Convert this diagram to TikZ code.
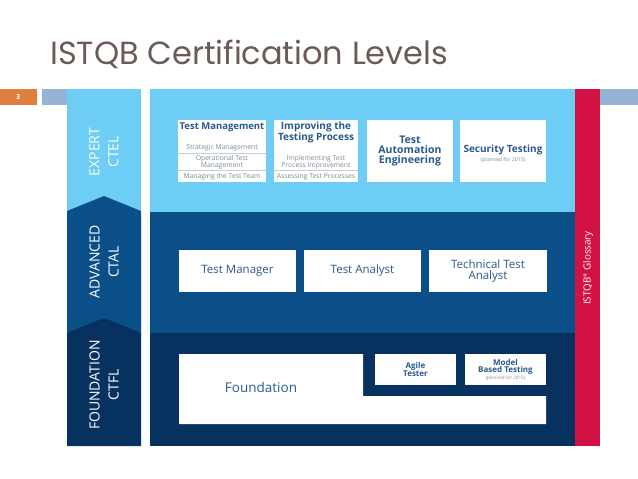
\documentclass[tikz,border=0pt]{standalone}
\usepackage{fontspec}
\setmainfont{Open Sans}
\newfontfamily\titlefont{Poppins}
\definecolor{lblue}{HTML}{6DCDF4}
\definecolor{ablue}{HTML}{0B4F88}
\definecolor{navy}{HTML}{07325F}
\definecolor{glossred}{HTML}{D21242}
\definecolor{bargray}{HTML}{95B3D7}
\definecolor{pgorange}{HTML}{DF7F3F}
\definecolor{titlecol}{HTML}{6B5A55}
\definecolor{boxtext}{HTML}{28598F}
\definecolor{subtext}{HTML}{7E8A96}
\definecolor{rule}{HTML}{C8CED6}
\begin{document}
\begin{tikzpicture}[x=1pt,y=-1pt,
  wbox/.style={fill=white,draw=none,inner sep=0pt},
  txt/.style={inner sep=0pt,align=center,text=boxtext},
  hd/.style={txt,font=\fontsize{9.5}{9.5}\selectfont\bfseries},
  sub/.style={txt,text=subtext,font=\fontsize{6.8}{6.8}\selectfont},
  mid/.style={txt,font=\fontsize{11.5}{11.5}\selectfont},
  lvl/.style={inner sep=0pt,align=center,text=white,rotate=90,font=\fontsize{14}{19}\selectfont}]
\useasboundingbox (0,0) rectangle (638,479);
\fill[white] (0,0) rectangle (638,479);
% title
\node[anchor=base west,inner sep=0pt,text=titlecol,font=\titlefont\fontsize{32}{32}\selectfont] (title) at (50,64) {ISTQB Certification Levels};
% slide bar
\fill[pgorange] (0,89) rectangle (37,105);
\node[inner sep=0pt,text=white,font=\fontsize{7}{7}\selectfont\bfseries] (pgno) at (18,97) {3};
\fill[bargray] (41.5,89) rectangle (67,105);
\fill[bargray] (600,89) rectangle (638,105);
% left column
\fill[lblue] (67,89) rectangle (141,211);
\fill[ablue] (67,211) -- (104,196) -- (141,211) -- (141,333) -- (67,333) -- cycle;
\fill[navy] (67,333) -- (104,318) -- (141,333) -- (141,446) -- (67,446) -- cycle;
\node[lvl] (lexp) at (104,152) {EXPERT\\CTEL};
\node[lvl] (ladv) at (104,262) {ADVANCED\\CTAL};
\node[lvl] (lfnd) at (104,385) {FOUNDATION\\CTFL};
% main panels
\fill[lblue] (150,89) rectangle (575,212);
\fill[ablue] (150,212) rectangle (575,333);
\fill[navy] (150,333) rectangle (575,446);
\fill[glossred] (575,89) rectangle (600,446);
\node[inner sep=0pt,text=white,rotate=90,font=\fontsize{9.8}{9.8}\selectfont] (gloss) at (588,268) {ISTQB\textsuperscript{\tiny ®} Glossary};
% expert boxes
\node[wbox,minimum width=88,minimum height=62] (tm) at (222,151) {};
\draw[rule,line width=0.6pt] (tm.west |- 0,153.3) -- (tm.east |- 0,153.3);
\draw[rule,line width=0.6pt] (tm.west |- 0,170.7) -- (tm.east |- 0,170.7);
\node[hd] (tmh) at (222,127) {Test Management};
\node[sub] (tm1) at (222,148) {Strategic Management};
\node[sub] (tm2) at (222,162) {Operational Test\\Management};
\node[sub] (tm3) at (222,177) {Managing the Test Team};
\node[wbox,minimum width=84,minimum height=62] (ip) at (316,151) {};
\draw[rule,line width=0.6pt] (ip.west |- 0,170.7) -- (ip.east |- 0,170.7);
\node[hd,font=\fontsize{10}{10.5}\selectfont\bfseries] (iph) at (316,132.5) {Improving the\\Testing Process};
\node[sub] (ip1) at (316,162) {Implementing Test\\Process Improvement};
\node[sub] (ip2) at (316,177) {Assessing Test Processes};
\node[wbox,minimum width=86,minimum height=62] (tae) at (410,151) {};
\node[hd,font=\fontsize{10.5}{10}\selectfont\bfseries] at (tae) {Test\\Automation\\Engineering};
\node[wbox,minimum width=86,minimum height=62] (sec) at (503,151) {};
\node[hd,font=\fontsize{10}{10}\selectfont\bfseries] (sech) at (503,150) {Security Testing};
\node[sub,font=\fontsize{5.2}{5.2}\selectfont] (secs) at (503,160) {(planned for 2015)};
% advanced boxes
\node[wbox,minimum width=117,minimum height=42] (tmgr) at (237.5,271) {};
\node[mid] at (tmgr) {Test Manager};
\node[wbox,minimum width=117,minimum height=42] (ta) at (362.5,271) {};
\node[mid] at (ta) {Test Analyst};
\node[wbox,minimum width=118,minimum height=42] (tta) at (488,271) {};
\node[mid,font=\fontsize{11.5}{11.5}\selectfont] at (tta) {Technical Test\\Analyst};
% foundation
\fill[white] (179,354) -- (363,354) -- (363,396) -- (546,396) -- (546,424) -- (179,424) -- cycle;
\node[txt,font=\fontsize{13.5}{13.5}\selectfont] (fnd) at (261,387) {Foundation};
\node[wbox,minimum width=81,minimum height=31] (agile) at (415.5,369.5) {};
\node[txt,font=\fontsize{8}{7.5}\selectfont\bfseries] at (agile) {Agile\\Tester};
\node[wbox,minimum width=81,minimum height=31] (mbt) at (505.5,369.5) {};
\node[txt,font=\fontsize{8}{7.5}\selectfont\bfseries] (mbth) at (505.5,367) {Model\\Based Testing};
\node[sub,font=\fontsize{4.6}{4.6}\selectfont] (mbts) at (505.5,378.5) {(planned for 2015)};
\end{tikzpicture}
\end{document}
